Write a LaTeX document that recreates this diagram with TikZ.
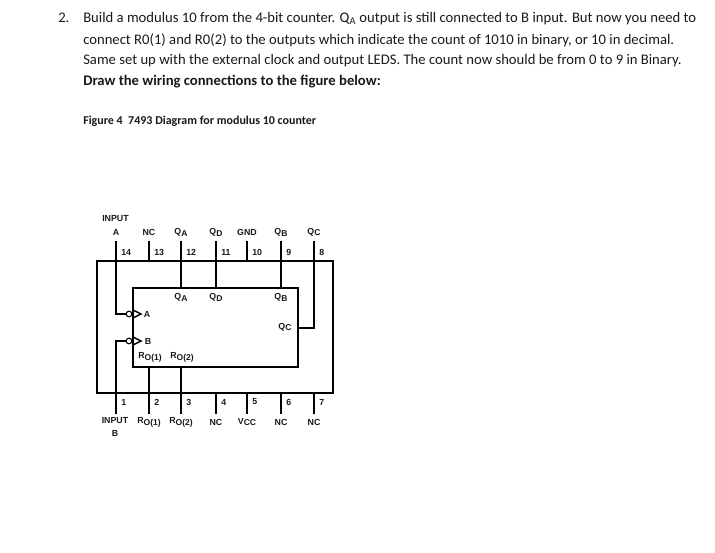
\documentclass[tikz,border=0pt]{standalone}
\usepackage{fontspec}
\setmainfont{Carlito}
\newfontfamily\pinfont{Liberation Sans}
\usetikzlibrary{positioning}
\usetikzlibrary{calc}
\tikzset{
wire/.style={line width=1.05pt,black},
txt/.style={anchor=base west,inner sep=0pt,font=\fontsize{11pt}{12pt}\selectfont,text=black!90},
pin/.style={inner sep=0pt,font=\pinfont\bfseries\fontsize{6.6pt}{7.5pt}\selectfont,text=black!90},
bubble/.style={circle,draw=black,line width=0.8pt,fill=white,inner sep=0pt,minimum size=4.2pt}
}
\newcommand{\lsub}[2]{#1\raisebox{-1.4pt}{\fontsize{6.4pt}{7pt}\selectfont #2}}

\begin{document}
\begin{tikzpicture}[x=0.75pt,y=-0.75pt]
    \useasboundingbox (0,0) rectangle (715,553);
    % question text
    \node[txt] (num)   at (58,22)  {2.};
    \node[txt] (line1) at (83,22)  {Build a modulus 10 from the 4-bit counter. Q\textsubscript{A} output is still connected to B input. But now you need to};
    \node[txt] (line2) at (83,44)  {connect R0(1) and R0(2) to the outputs which indicate the count of 1010 in binary, or 10 in decimal.};
    \node[txt] (line3) at (83,64)  {Same set up with the external clock and output LEDS. The count now should be from 0 to 9 in Binary.};
    \node[txt] (line4) at (83,85)  {\textbf{Draw the wiring connections to the figure below:}};
    \node[txt,font=\fontsize{9pt}{10pt}\selectfont] (cap) at (83,124) {\textbf{Figure 4\ \ 7493 Diagram for modulus 10 counter}};
    % chip outline and counter block
    \coordinate (chipnw) at (97,261);
    \coordinate (chipse) at (333,393);
    \coordinate (blocknw) at (133,288);
    \coordinate (blockse) at (298,367);
    \draw[wire] (chipnw) rectangle (chipse);
    \draw[wire] (blocknw) rectangle (blockse);
    % top pins
    \foreach \name/\x/\num/\lab in {a/116/14/A,b/149/13/NC,c/181/12/\lsub{Q}{A},d/216/11/\lsub{Q}{D},e/247/10/GND,f/281/9/\lsub{Q}{B},g/314/8/\lsub{Q}{C}} {
      \coordinate (top\name) at (\x,241);
      \coordinate (bot\name) at (\x,261);
      \draw[wire] (top\name) -- (bot\name);
      \node[pin,anchor=west] (n\name) at (\x+5,252) {\num};
      \node[pin] (l\name) at (\x,232) {\lab};
    }
    % bottom pins
    \foreach \name/\x/\num/\lab in {h/116/1/{},i/149/2/\lsub{R}{O(1)},j/181/3/\lsub{R}{O(2)},k/216/4/NC,l/247/5/\lsub{V}{CC},m/281/6/NC,n/314/7/NC} {
      \coordinate (up\name) at (\x,393);
      \coordinate (dn\name) at (\x,414);
      \draw[wire] (up\name) -- (dn\name);
      \node[pin,anchor=west] (n\name) at (\x+5,402) {\num};
      \node[pin] (l\name) at (\x,422) {\lab};
    }
    \node[pin,align=center] (inb) at (115,427) {INPUT\\[2.4pt]B};
    \node[pin,anchor=west] (ina) at (102,219) {INPUT};
    % inner connections
    \coordinate (qa) at (181,288);
    \coordinate (qd) at (216,288);
    \coordinate (qb) at (281,288);
    \coordinate (ro1) at (149,367);
    \coordinate (ro2) at (181,367);
    \coordinate (qc) at (298,328);
    \draw[wire] (botc) -- (qa);
    \draw[wire] (botd) -- (qd);
    \draw[wire] (botf) -- (qb);
    \draw[wire] (botg) |- (qc);
    \draw[wire] (upi) -- (ro1);
    \draw[wire] (upj) -- (ro2);
    % clock inputs
    \node[bubble] (bubblea) at (129,314) {};
    \node[bubble] (bubbleb) at (129,341) {};
    \draw[wire] (bota) |- (bubblea);
    \draw[wire] (uph) |- (bubbleb);
    \draw[wire] (133,310) -- (141,314) -- (133,318);
    \draw[wire] (133,337) -- (141,341) -- (133,345);
    % block labels
    \node[pin] (ia) at (147,314) {A};
    \node[pin] (ib) at (148,341) {B};
    \node[pin] (iqa) at (181,297) {\lsub{Q}{A}};
    \node[pin] (iqd) at (216,297) {\lsub{Q}{D}};
    \node[pin] (iqb) at (281,297) {\lsub{Q}{B}};
    \node[pin] (iqc) at (285,327) {\lsub{Q}{C}};
    \node[pin] (iro1) at (150,357) {\lsub{R}{O(1)}};
    \node[pin] (iro2) at (182,357) {\lsub{R}{O(2)}};
\end{tikzpicture}
\end{document}
